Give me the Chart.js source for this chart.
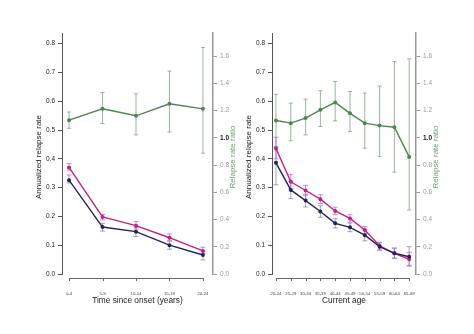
<!DOCTYPE html>
<html>
<head>
<meta charset="utf-8">
<script src="https://cdn.jsdelivr.net/npm/chart.js@4"></script>
<style>
  body { margin: 0; background: #fff; }
  .panel { position: absolute; top: 0; width: 237px; height: 334px; }
</style>
</head>
<body>
<div class="panel" style="left:0"><canvas id="onset" width="237" height="334"></canvas></div>
<div class="panel" style="left:237px"><canvas id="age" width="237" height="334"></canvas></div>
<script>
// time since onset panel
const onsetCats = ["0-4", "5-9", "10-14", "15-19", "20-24"];
const onsetRatio = [1.13, 1.213, 1.162, 1.25, 1.213];
const onsetRatioLo = [1.07, 1.105, 1.022, 1.042, 0.887];
const onsetRatioHi = [1.19, 1.333, 1.324, 1.49, 1.664];
const onsetRateA = [0.37, 0.198, 0.168, 0.126, 0.08];
const onsetRateALo = [0.361, 0.188, 0.156, 0.115, 0.07];
const onsetRateAHi = [0.384, 0.207, 0.182, 0.139, 0.093];
const onsetRateB = [0.326, 0.163, 0.147, 0.1, 0.066];
const onsetRateBLo = [0.316, 0.149, 0.13, 0.086, 0.049];
const onsetRateBHi = [0.344, 0.176, 0.162, 0.114, 0.08];

// current age panel
const ageCats = ["20-24", "25-29", "30-34", "35-39", "40-44", "45-49", "50-54", "55-59", "60-64", "65-69"];
const ageRatio = [1.127, 1.108, 1.145, 1.206, 1.26, 1.18, 1.108, 1.09, 1.078, 0.86];
const ageRatioLo = [0.936, 0.978, 1.022, 1.083, 1.125, 1.046, 0.924, 0.862, 0.748, 0.47];
const ageRatioHi = [1.32, 1.255, 1.284, 1.346, 1.414, 1.34, 1.329, 1.38, 1.56, 1.58];
const ageRateA = [0.436, 0.32, 0.29, 0.26, 0.219, 0.193, 0.153, 0.098, 0.072, 0.051];
const ageRateALo = [0.4, 0.295, 0.272, 0.245, 0.206, 0.18, 0.141, 0.086, 0.055, 0.03];
const ageRateAHi = [0.475, 0.345, 0.308, 0.275, 0.232, 0.206, 0.165, 0.11, 0.09, 0.075];
const ageRateB = [0.386, 0.292, 0.255, 0.217, 0.176, 0.162, 0.135, 0.095, 0.072, 0.06];
const ageRateBLo = [0.31, 0.262, 0.233, 0.197, 0.16, 0.147, 0.115, 0.082, 0.055, 0.027];
const ageRateBHi = [0.44, 0.322, 0.277, 0.237, 0.192, 0.177, 0.155, 0.108, 0.09, 0.095];

const rateTicks = [0, 0.1, 0.2, 0.3, 0.4, 0.5, 0.6, 0.7, 0.8];
const ratioTicks = [0, 0.2, 0.4, 0.6, 0.8, 1.0, 1.2, 1.4, 1.6];

const FONT = "'Liberation Sans', Arial, sans-serif";
const green = "#4e874e";
const magenta = "#c4217f";
const navy = "#23235e";

function pts(vals) {
  return vals.map((v, i) => ({ x: i, y: v }));
}

function isOne(c) {
  return c.tick && Math.abs(c.tick.value - 1) < 1e-9;
}

function line(vals, lo, hi, color, errColor, axis) {
  return {
    data: pts(vals),
    errLo: lo,
    errHi: hi,
    errColor: errColor,
    yAxisID: axis,
    borderColor: color,
    backgroundColor: color,
    borderWidth: 1.4,
    pointRadius: 1.3,
    pointHoverRadius: 1.3,
    tension: 0,
  };
}

// error bars and axis decorations drawn with the chart's own scales
const extras = {
  id: "extras",
  beforeDatasetsDraw(chart) {
    const ctx = chart.ctx;
    const x = chart.scales.x;
    chart.data.datasets.forEach((ds) => {
      const y = chart.scales[ds.yAxisID];
      const cap = ds.yAxisID === "y2" ? 2 : 2.5;
      ctx.save();
      ctx.strokeStyle = ds.errColor;
      ctx.lineWidth = 1;
      ds.data.forEach((p, i) => {
        const px = x.getPixelForValue(p.x);
        const top = y.getPixelForValue(ds.errHi[i]);
        const bot = y.getPixelForValue(ds.errLo[i]);
        ctx.beginPath();
        ctx.moveTo(px, top); ctx.lineTo(px, bot);
        ctx.moveTo(px - cap, top); ctx.lineTo(px + cap, top);
        ctx.moveTo(px - cap, bot); ctx.lineTo(px + cap, bot);
        ctx.stroke();
      });
      ctx.restore();
    });
  },
  afterDraw(chart) {
    const ctx = chart.ctx;
    const x = chart.scales.x;
    const n = chart.options.cats.length;
    const ay = chart.chartArea.bottom + 4;
    ctx.save();
    ctx.strokeStyle = "#666";
    ctx.lineWidth = 1;
    ctx.beginPath();
    ctx.moveTo(x.getPixelForValue(0), ay + 0.5);
    ctx.lineTo(x.getPixelForValue(n - 1), ay + 0.5);
    for (let i = 0; i < n; i++) {
      const px = Math.round(x.getPixelForValue(i)) + 0.5;
      ctx.moveTo(px, ay);
      ctx.lineTo(px, ay + 3);
    }
    ctx.stroke();

    const cy = 157;
    ctx.font = "8px " + FONT;
    ctx.textAlign = "center";
    ctx.textBaseline = "middle";
    ctx.fillStyle = "#222";
    ctx.translate(chart.chartArea.left - 23, cy);
    ctx.rotate(-Math.PI / 2);
    ctx.fillText("Annualized relapse rate", 0, 0);
    ctx.restore();

    ctx.save();
    ctx.font = "8px " + FONT;
    ctx.textAlign = "center";
    ctx.textBaseline = "middle";
    ctx.fillStyle = "#6aa66a";
    ctx.translate(chart.chartArea.right + 20, cy);
    ctx.rotate(-Math.PI / 2);
    ctx.fillText("Relapse rate ratio", 0, 0);
    ctx.restore();
  },
};

function makeChart(id, cats, xMin, xMax, leftW, rightW, xTitle, datasets) {
  return new Chart(document.getElementById(id), {
    type: "line",
    data: { datasets: datasets },
    plugins: [extras],
    options: {
      cats: cats,
      responsive: false,
      devicePixelRatio: 1,
      animation: false,
      layout: { padding: { top: 33, left: 0, right: 0, bottom: 0 } },
      plugins: { legend: { display: false }, tooltip: { enabled: false } },
      scales: {
        x: {
          type: "linear",
          min: xMin,
          max: xMax,
          afterFit: (s) => { s.height = 60; },
          afterBuildTicks: (s) => { s.ticks = cats.map((c, i) => ({ value: i })); },
          grid: { display: false },
          border: { display: false },
          ticks: {
            autoSkip: false,
            maxRotation: 0,
            padding: 9,
            color: "#444",
            font: { family: FONT, size: 4.3 },
            callback: (v) => cats[v],
          },
          title: {
            display: true,
            text: xTitle,
            color: "#222",
            font: { family: FONT, size: 8.3 },
            padding: { top: 0, bottom: 28 },
          },
        },
        y: {
          position: "left",
          min: 0,
          max: 0.837,
          afterFit: (s) => { s.width = leftW; },
          afterBuildTicks: (s) => { s.ticks = rateTicks.map((v) => ({ value: v })); },
          grid: { drawOnChartArea: false, tickLength: 4, color: "#555" },
          border: { color: "#555", width: 1 },
          ticks: {
            padding: 3,
            color: "#222",
            font: { family: FONT, size: 6.5 },
            callback: (v) => v.toFixed(1),
          },
        },
        y2: {
          position: "right",
          min: 0,
          max: 1.77,
          afterFit: (s) => { s.width = rightW; },
          afterBuildTicks: (s) => { s.ticks = ratioTicks.map((v) => ({ value: v })); },
          grid: { drawOnChartArea: false, tickLength: 4, color: "#999" },
          border: { color: "#999", width: 1.5 },
          ticks: {
            padding: 3,
            color: (c) => (isOne(c) ? "#111" : "#999"),
            font: (c) => ({
              family: FONT,
              size: 6.5,
              weight: isOne(c) ? "bold" : "normal",
            }),
            callback: (v) => v.toFixed(1),
          },
        },
      },
    },
  });
}

makeChart("onset", onsetCats, -0.21, 4.3, 62, 24, "Time since onset (years)", [
  line(onsetRatio, onsetRatioLo, onsetRatioHi, green, "rgba(100,145,100,0.65)", "y2"),
  line(onsetRateB, onsetRateBLo, onsetRateBHi, navy, "rgba(110,100,160,0.6)", "y"),
  line(onsetRateA, onsetRateALo, onsetRateAHi, magenta, "rgba(190,90,200,0.7)", "y"),
]);

makeChart("age", ageCats, -0.27, 9.46, 35, 58, "Current age", [
  line(ageRatio, ageRatioLo, ageRatioHi, green, "rgba(100,145,100,0.65)", "y2"),
  line(ageRateB, ageRateBLo, ageRateBHi, navy, "rgba(110,100,160,0.6)", "y"),
  line(ageRateA, ageRateALo, ageRateAHi, magenta, "rgba(190,90,200,0.7)", "y"),
]);
</script>
</body>
</html>
